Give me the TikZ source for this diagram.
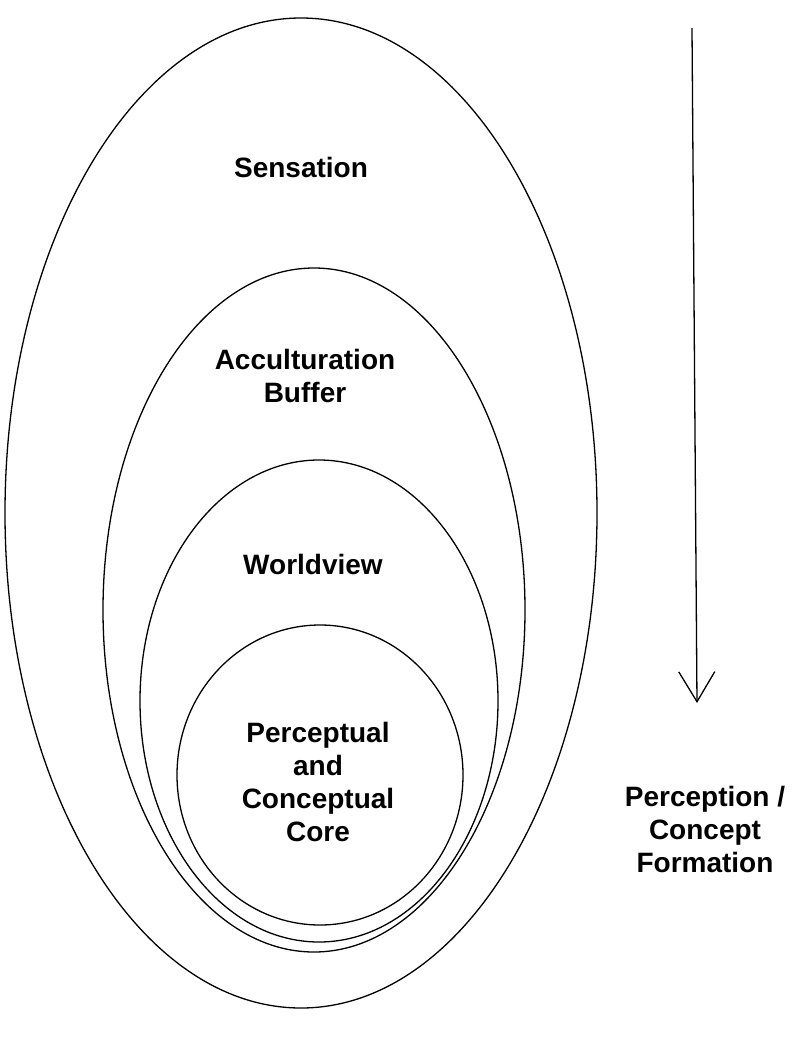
\documentclass[tikz,border=0pt]{standalone}
\usepackage{fontspec}
\setmainfont{Liberation Sans}
\usetikzlibrary{arrows.meta}
\begin{document}
\begin{tikzpicture}[x=1pt,y=-1pt,
  ring/.style={draw=black,line width=1.3pt},
  lab/.style={align=center,font=\bfseries\fontsize{28}{33}\selectfont,inner sep=0pt}]
\useasboundingbox (0,0) rectangle (811,1050);
\draw[ring] (301,513) ellipse [x radius=296,y radius=495];
\draw[ring] (314,610) ellipse [x radius=211,y radius=342];
\draw[ring] (319,701) ellipse [x radius=179,y radius=241];
\draw[ring] (320,775) ellipse [x radius=143,y radius=150];
\node[lab] (s) at (301,167) {Sensation};
\node[lab] (a) at (305,376) {Acculturation\\Buffer};
\node[lab] (w) at (313,564) {Worldview};
\node[lab] (p) at (318,782) {Perceptual\\and\\Conceptual\\Core};
\node[lab] (f) at (705,829) {Perception /\\Concept\\Formation};
\coordinate (t) at (692,28);
\coordinate (h) at (697,703);
\draw[line width=1.3pt,-{Straight Barb[length=30pt,width=36pt,line width=1.3pt]}] (t) -- (h);
\end{tikzpicture}
\end{document}
